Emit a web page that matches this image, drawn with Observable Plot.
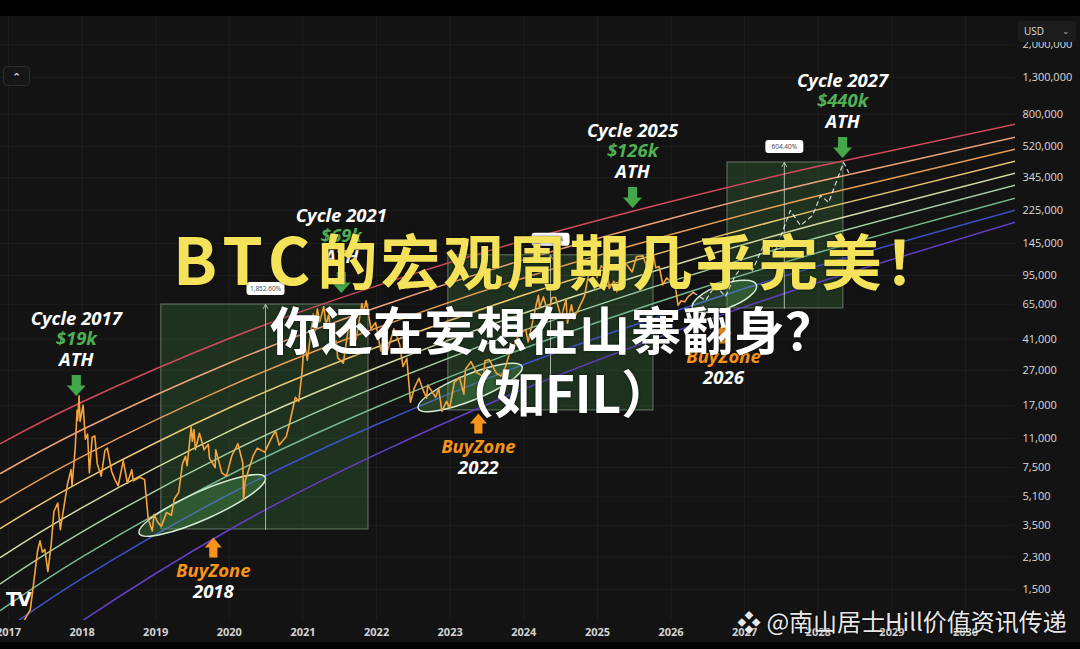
<!DOCTYPE html>
<html><head><meta charset="utf-8">
<script src="https://cdn.jsdelivr.net/npm/d3@7"></script>
<script src="https://cdn.jsdelivr.net/npm/@observablehq/plot@0.6"></script>
<style>
html,body{margin:0;padding:0;background:#000;width:1080px;height:649px;overflow:hidden;}
#wrap{position:relative;width:1080px;height:649px;}
#panel{position:absolute;left:0;top:16px;width:1080px;height:626px;background:#131313;}
#wrap svg{position:absolute;left:0;top:0;}
.ov{position:absolute;white-space:nowrap;font-family:"Noto Sans CJK SC";font-weight:700;line-height:1;}
#t1{left:173px;top:225px;font-size:60px;letter-spacing:3px;color:#f4e35a;text-shadow:0 0 3px rgba(0,0,0,0.6);}
#t1 b{font-size:65px;letter-spacing:7px;font-weight:700;}
#t2{left:270px;top:303px;font-size:51px;letter-spacing:0.5px;color:#fff;text-shadow:0 0 3px rgba(0,0,0,0.6);}
#t3{left:443px;top:366px;font-size:51px;color:#fff;text-shadow:0 0 3px rgba(0,0,0,0.6);}
#wm{left:737px;top:609px;font-size:24px;font-weight:400;color:rgba(255,255,255,0.93);text-shadow:0 0 2px #000;}
#usd{position:absolute;left:1018px;top:21px;width:58px;height:21px;background:#1c1c1c;border-radius:3px;font:10px "Open Sans";color:#ddd;line-height:20px;padding-left:6px;box-sizing:border-box;z-index:3;}
#usd span{position:absolute;right:6px;top:0;font-size:9px;color:#aaa;}
#up{position:absolute;left:3px;top:66px;width:27px;height:20px;border:1px solid #2e2e2e;border-radius:4px;background:#161616;color:#ddd;font:bold 11px "DejaVu Sans";text-align:center;line-height:22px;box-sizing:border-box;}
#tv{position:absolute;left:6px;top:588px;font:900 19px "DejaVu Sans";color:#fff;letter-spacing:-2px;}
</style></head>
<body><div id="wrap"><div id="panel"></div></div>
<script>
// ---------- data ----------
const priceDates = ["2017-03-20","2017-04-19","2017-05-10","2017-05-25","2017-06-06","2017-06-18","2017-06-30","2017-07-15","2017-08-01","2017-08-14","2017-09-02","2017-09-15","2017-10-01","2017-10-20","2017-11-07","2017-11-12","2017-11-28","2017-12-07","2017-12-10","2017-12-17","2017-12-22","2018-01-06","2018-01-17","2018-01-28","2018-02-06","2018-02-20","2018-03-05","2018-03-17","2018-04-06","2018-04-24","2018-05-06","2018-05-28","2018-06-13","2018-06-29","2018-07-24","2018-08-14","2018-09-04","2018-09-12","2018-10-15","2018-11-07","2018-11-20","2018-11-25","2018-12-15","2018-12-24","2019-01-10","2019-01-29","2019-02-24","2019-03-20","2019-04-03","2019-04-25","2019-05-14","2019-05-29","2019-06-06","2019-06-26","2019-07-02","2019-07-10","2019-07-17","2019-08-06","2019-08-29","2019-09-19","2019-09-25","2019-10-23","2019-10-26","2019-11-25","2019-12-18","2020-01-14","2020-02-13","2020-03-08","2020-03-12","2020-03-20","2020-04-29","2020-05-19","2020-06-25","2020-07-27","2020-08-17","2020-09-05","2020-10-10","2020-10-27","2020-11-24","2020-12-11","2020-12-27","2021-01-08","2021-01-22","2021-02-21","2021-02-28","2021-03-13","2021-03-25","2021-04-14","2021-04-25","2021-05-10","2021-05-19","2021-06-14","2021-06-22","2021-07-20","2021-08-14","2021-09-06","2021-09-21","2021-10-20","2021-10-28","2021-11-10","2021-12-04","2021-12-27","2022-01-22","2022-02-10","2022-02-24","2022-03-28","2022-04-26","2022-05-12","2022-05-31","2022-06-18","2022-07-08","2022-07-30","2022-08-19","2022-09-06","2022-09-12","2022-10-21","2022-11-05","2022-11-21","2022-12-14","2022-12-30","2023-01-21","2023-02-16","2023-03-10","2023-03-18","2023-04-14","2023-05-12","2023-06-15","2023-06-23","2023-07-13","2023-08-18","2023-09-11","2023-10-02","2023-10-24","2023-11-15","2023-12-08","2024-01-11","2024-01-23","2024-02-15","2024-03-05","2024-03-14","2024-03-20","2024-04-08","2024-05-01","2024-05-21","2024-06-07","2024-07-05","2024-07-29","2024-08-05","2024-08-25","2024-09-06","2024-10-29","2024-11-12","2024-11-22","2024-12-05","2024-12-17","2024-12-30","2025-01-20","2025-02-20","2025-02-28","2025-03-24","2025-04-07","2025-04-25","2025-05-22","2025-06-22","2025-07-14","2025-08-14","2025-09-01","2025-09-19","2025-10-06","2025-10-17","2025-11-03","2025-11-21","2025-12-10","2025-12-31","2026-01-14","2026-02-05","2026-02-20","2026-03-10","2026-03-28","2026-04-22"];
const priceValues = [1000,1150,1800,2500,2850,2450,2550,1900,2750,4200,4700,3300,4350,6000,7300,5900,9800,16000,14000,19400,13800,17100,10900,11700,7000,11200,11400,7900,6700,9400,9700,7100,6400,5900,8200,6100,7300,6300,6600,6400,4400,3800,3250,4050,3650,3450,4150,4000,4950,5400,7900,8700,7700,12800,10600,12400,9500,11800,9500,10200,8500,7500,9500,7000,6700,8800,10300,8000,4900,6300,8800,9700,9200,11000,12200,10100,11300,13600,19000,18000,26500,40000,31000,57000,45000,61000,51500,63000,49000,58000,37000,40000,32000,29800,47000,51500,40500,65500,58500,68000,47000,51000,35000,44000,35000,47000,38000,28500,31700,17800,21600,24400,21000,18800,22300,19000,21300,15800,18000,16500,23000,24700,19800,27500,30400,26300,25000,30800,31300,26100,25100,28200,34500,37800,44000,46500,39500,52000,66000,73000,62000,71500,57500,71000,71000,54500,69000,50500,64500,53500,72500,89000,99000,103000,107000,92500,108000,98000,80000,88000,76500,95000,111000,99500,122000,123000,107500,117500,125000,105000,107000,84000,92000,87500,95500,64000,68000,67000,72000,75900];

const projDates = ["2026-04-22","2026-06-21","2026-08-09","2026-09-28","2026-11-16","2027-01-05","2027-02-09","2027-04-15","2027-06-03","2027-08-16","2027-10-05","2027-12-04","2028-01-13","2028-02-22","2028-05-06","2028-05-31"];
const projValues = [75900,68200,83200,71900,94900,112700,101400,150800,132100,224100,183800,209800,273300,249100,422500,370200];

const bandDates = ["2016-11-22","2018-01-01","2020-01-01","2022-01-01","2024-01-01","2026-01-01","2028-01-01","2030-09-06"];
const band1 = [10300,17850,41300,82800,150500,252600,401800,700600];
const band2 = [6940,12370,29890,62220,116800,201600,328700,590200];
const band3 = [4730,8680,21940,47390,91880,162950,272500,504300];
const band4 = [3360,6300,16540,36820,73280,133150,226700,430300];
const band5 = [2290,4420,12140,28050,57630,107650,187950,367300];
const band6 = [1620,3210,9150,21800,45970,87830,156700,313400];
const band7 = [1136,2307,6805,16710,36200,70720,128600,264000];
const band8 = [839,1734,5276,13260,29300,58240,107800,225300];
const band9 = [451,989,3300,8960,21140,44480,86560,192400];
const bandColors = ["#cf4a5e","#eea27a","#eb9f55","#ecc874","#d5dca2","#a3cfa3","#74b98f","#3e52c8","#6440c4"];

const boxStart = ["2019-01-29","2022-12-23","2026-10-08"];
const boxEnd   = ["2021-11-22","2025-10-06","2028-05-05"];
const boxMid   = ["2020-06-29","2024-05-13","2027-07-17"];
const boxLow   = [3313,15960,61420];
const boxHigh  = [64730,124000,422500];
const boxLabel = ["1,852.60%","584.80%","604.40%"];

const zoneDates  = ["2019-08-20","2023-04-10","2026-09-23"];
const zonePrices = [4550,21630,72000];

const cycleNames  = ["Cycle 2017","Cycle 2021","Cycle 2025","Cycle 2027"];
const cyclePeaks  = ["$19k","$69k","$126k","$440k"];
const cycleDates  = ["2017-12-03","2021-07-10","2025-06-24","2028-05-01"];
const cycleTips   = [19460,75900,233000,451000];

const buyYears  = ["2018","2022","2026"];
const buyDates  = ["2019-10-14","2023-05-21","2026-09-18"];
const buyTips   = [2981,15340,50350];

const yTicks = [1500,2300,3500,5100,7500,11000,17000,27000,41000,65000,95000,145000,225000,345000,520000,800000,1300000,2000000];
const yearTicks = ["2017","2018","2019","2020","2021","2022","2023","2024","2025","2026","2027","2028","2029","2030"];

// ---------- build ----------
const P = d3.utcParse("%Y-%m-%d");
const xEnd = P("2030-09-06");
const btc = priceDates.map((d,i)=>({date:P(d), price:priceValues[i]}));
const proj = projDates.map((d,i)=>({date:P(d), price:projValues[i]}));
const bandsAll = [band1,band2,band3,band4,band5,band6,band7,band8,band9];
const boxes = boxStart.map((d,i)=>({x1:P(d), x2:P(boxEnd[i]), mid:P(boxMid[i]), lo:boxLow[i], hi:boxHigh[i], label:boxLabel[i]}));
const zones = zoneDates.map((d,i)=>({date:P(d), price:zonePrices[i]}));
const cycles = cycleNames.map((n,i)=>({name:n, peak:cyclePeaks[i], date:P(cycleDates[i]), price:cycleTips[i]}));
const buys = buyYears.map((y,i)=>({year:y, date:P(buyDates[i]), price:buyTips[i]}));
const years = yearTicks.map(y=>d3.utcParse("%Y")(y));
const yLab = yTicks.map(v=>({x:xEnd, v, t:d3.format(",")(v)}));

function blockArrow(w, h, up){
  const s = up ? -1 : 1, hw = w/2, sw = w*0.24, hh = h/2;
  return {draw(ctx){
    ctx.moveTo(-sw, -hh*s); ctx.lineTo(sw, -hh*s); ctx.lineTo(sw, 0);
    ctx.lineTo(hw, 0); ctx.lineTo(0, hh*s); ctx.lineTo(-hw, 0); ctx.lineTo(-sw, 0); ctx.closePath();
  }};
}
function ellipse(a, b, deg){
  const t = deg*Math.PI/180, c = Math.cos(t), s = Math.sin(t), k = 0.5523;
  const p = (x,y)=>[x*c - y*s, x*s + y*c];
  return {draw(ctx){
    const s0 = p(a,0); ctx.moveTo(s0[0], s0[1]);
    const segs = [[[a,k*b],[k*a,b],[0,b]],[[-k*a,b],[-a,k*b],[-a,0]],[[-a,-k*b],[-k*a,-b],[0,-b]],[[k*a,-b],[a,-k*b],[a,0]]];
    for (const [c1,c2,e] of segs){ const A=p(...c1), B=p(...c2), E=p(...e); ctx.bezierCurveTo(A[0],A[1],B[0],B[1],E[0],E[1]); }
    ctx.closePath();
  }};
}
function roundRect(w, h, r){
  return {draw(ctx){
    const x0=-w/2, y0=-h/2, x1=w/2, y1=h/2;
    ctx.moveTo(x0+r,y0); ctx.lineTo(x1-r,y0); ctx.arcTo(x1,y0,x1,y0+r,r); ctx.lineTo(x1,y1-r); ctx.arcTo(x1,y1,x1-r,y1,r);
    ctx.lineTo(x0+r,y1); ctx.arcTo(x0,y1,x0,y1-r,r); ctx.lineTo(x0,y0+r); ctx.arcTo(x0,y0,x0+r,y0,r); ctx.closePath();
  }};
}

const annFont = {fontFamily:"Open Sans", fontWeight:700, fontStyle:"italic", fontSize:18.5};
const ellShapes = [ellipse(69,14,-24), ellipse(56,13,-22), ellipse(34,12,-20)];

const chart = Plot.plot({
  width:1080, height:649,
  marginTop:16, marginBottom:29, marginLeft:0, marginRight:65,
  style:{background:"transparent", color:"#d8d8d8", fontFamily:"Open Sans"},
  x:{type:"utc", domain:[P("2016-11-22"), xEnd]},
  y:{type:"log", domain:[995, 2907000]},
  marks:[
    Plot.gridX(years, {stroke:"#ffffff", strokeOpacity:0.045}),
    Plot.gridY(yTicks, {stroke:"#ffffff", strokeOpacity:0.045}),
    Plot.rect(boxes, {x1:"x1", x2:"x2", y1:"lo", y2:"hi", fill:"#4caf50", fillOpacity:0.2, stroke:"#a7bda7", strokeOpacity:0.55, strokeWidth:1}),
    ...bandsAll.map((vals,k)=>Plot.line(bandDates.map((d,i)=>({date:P(d), price:vals[i]})), {x:"date", y:"price", stroke:bandColors[k], strokeWidth:1.5, curve:"natural", clip:true})),
    ...zones.map((z,i)=>Plot.dot([z], {x:"date", y:"price", symbol:ellShapes[i], r:10, fill:"#5cbf60", fillOpacity:0.28, stroke:"#d5ecd5", strokeWidth:1.5})),
    Plot.arrow(boxes, {x1:"mid", x2:"mid", y1:"lo", y2:"hi", stroke:"#d0d6d0", strokeOpacity:0.8, strokeWidth:1, headLength:7, insetEnd:0}),
    Plot.line(btc, {x:"date", y:"price", stroke:"#f7a43a", strokeWidth:1.6, clip:true}),
    Plot.line(proj, {x:"date", y:"price", stroke:"#ffffff", strokeOpacity:0.8, strokeWidth:1.2, strokeDasharray:"4,4", clip:true}),
    Plot.dot(boxes, {x:"mid", y:"hi", dy:-16, symbol:roundRect(38,13,3), r:10, fill:"#ffffff", stroke:"none"}),
    Plot.text(boxes, {x:"mid", y:"hi", dy:-16, text:"label", fontSize:6.5, fill:"#444", fontFamily:"Open Sans"}),
    Plot.dot(cycles, {x:"date", y:"price", dy:-10, symbol:blockArrow(19,21,false), r:10, fill:"#44a84a", stroke:"none"}),
    Plot.text(cycles, {x:"date", y:"price", dy:-35, text:()=>"ATH", fill:"#ffffff", ...annFont}),
    Plot.text(cycles, {x:"date", y:"price", dy:-56, text:"peak", fill:"#4fb054", ...annFont}),
    Plot.text(cycles, {x:"date", y:"price", dy:-76, text:"name", fill:"#ffffff", ...annFont}),
    Plot.dot(buys, {x:"date", y:"price", dy:10, symbol:blockArrow(17,20,true), r:10, fill:"#f7931a", stroke:"none"}),
    Plot.text(buys, {x:"date", y:"price", dy:34, text:()=>"BuyZone", fill:"#f7931a", ...annFont}),
    Plot.text(buys, {x:"date", y:"price", dy:55, text:"year", fill:"#ffffff", ...annFont}),
    Plot.text(yLab, {x:"x", y:"v", text:"t", dx:7, textAnchor:"start", fontSize:11, fill:"#dcdcdc", fontFamily:"Open Sans"}),
    Plot.axisX(years, {anchor:"bottom", tickSize:0, tickPadding:8, tickFormat:d3.utcFormat("%Y"), fontSize:11, fontWeight:700, fill:"#d4d4d4", label:null})
  ]
});
const wrap = document.getElementById("wrap");
wrap.appendChild(chart);
const add = (html)=>{ wrap.insertAdjacentHTML("beforeend", html); };
add('<div id="usd">USD<span>&#8964;</span></div>');
add('<div id="up">&#8963;</div>');
add('<div id="tv">TV</div>');
add('<div class="ov" id="t1"><b>BTC</b>的宏观周期几乎完美！</div>');
add('<div class="ov" id="t2">你还在妄想在山寨翻身？</div>');
add('<div class="ov" id="t3">（如FIL）</div>');
add('<div class="ov" id="wm">❖ @南山居士Hill价值资讯传递</div>');
</script>
</body></html>
